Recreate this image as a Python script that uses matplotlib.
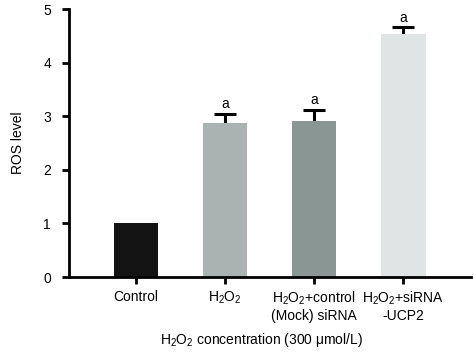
import matplotlib
matplotlib.use('Agg')
import matplotlib.pyplot as plt
import numpy as np

plt.rcParams['font.family'] = ['Liberation Sans', 'DejaVu Sans']
plt.rcParams['mathtext.fontset'] = 'custom'
plt.rcParams['mathtext.rm'] = 'Liberation Sans'
plt.rcParams['mathtext.it'] = 'Liberation Sans'
plt.rcParams['font.size'] = 10

# data
groups = ['Control', 'H$_2$O$_2$', 'H$_2$O$_2$+control\n(Mock) siRNA', 'H$_2$O$_2$+siRNA\n-UCP2']
ros = [1.0, 2.87, 2.91, 4.54]
err = [0.0, 0.17, 0.21, 0.12]
marks = ['', 'a', 'a', 'a']
colors = ['#141414', '#a9b4b2', '#8a9694', '#e1e4e5']

fig = plt.figure(figsize=(4.74, 3.52), dpi=100)
ax = fig.add_axes([0.1456, 0.213, 0.848, 0.761])

x = np.arange(len(groups))
# error bars behind the bars, so only the upper half shows
ax.errorbar(x[1:], ros[1:], yerr=err[1:], fmt='none',
            ecolor='black', elinewidth=2.2, capsize=8, capthick=2.2, zorder=1)
ax.bar(x, ros, width=0.5, color=colors, zorder=2)
for xi, v, e, m in zip(x, ros, err, marks):
    if m:
        ax.text(xi, v + e + 0.05, m, ha='center', va='bottom', fontsize=10)

ax.set_xlim(-0.75, 3.76)
ax.set_ylim(0, 5)
ax.set_yticks([0, 1, 2, 3, 4, 5])
ax.set_xticks(x)
ax.set_xticklabels(groups)
ax.set_ylabel('ROS level', labelpad=13)
ax.set_xlabel('H$_2$O$_2$ concentration (300 μmol/L)', labelpad=9)
ax.xaxis.set_label_coords(0.48, -0.2)

for s in ['top', 'right']:
    ax.spines[s].set_visible(False)
for s in ['left', 'bottom']:
    ax.spines[s].set_linewidth(2)
ax.tick_params(width=2, length=5)
ax.tick_params(axis='y', pad=8)
ax.tick_params(axis='x', pad=4)

fig.savefig('out.png', dpi=100)
